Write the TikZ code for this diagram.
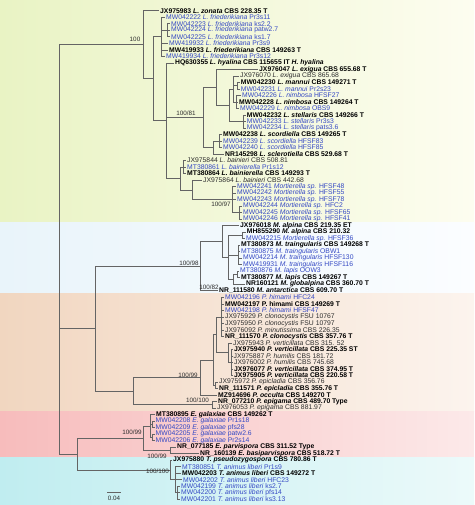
\documentclass[tikz,border=0pt]{standalone}
\usepackage{fontspec}
\setmainfont{Liberation Sans}
\definecolor{tblue}{RGB}{52,72,196}
\definecolor{tline}{RGB}{100,100,100}
\definecolor{tgray}{RGB}{45,45,45}
\definecolor{yL}{RGB}{233,243,196}
\definecolor{yR}{RGB}{253,253,240}
\definecolor{bL}{RGB}{233,244,250}
\definecolor{bR}{RGB}{251,253,255}
\definecolor{oL}{RGB}{241,214,192}
\definecolor{oR}{RGB}{252,244,238}
\definecolor{pL}{RGB}{247,188,188}
\definecolor{pR}{RGB}{252,233,233}
\definecolor{cL}{RGB}{192,237,240}
\definecolor{cR}{RGB}{236,250,250}
\newcommand\leaffont{\fontsize{6.8}{7}\selectfont}
\newcommand\suppfont{\fontsize{6.3}{7}\selectfont}
\tikzset{
  leaf/.style={anchor=west, inner sep=1pt, font=\leaffont, text=black},
  bl/.style={leaf, text=tblue},
  rg/.style={leaf, text=tgray},
  bd/.style={leaf, font=\leaffont\bfseries},
  edge/.style={draw=tline, line width=0.55pt},
  supp/.style={font=\suppfont, text=tgray, inner sep=0pt}
}
\begin{document}
\begin{tikzpicture}[x=1pt,y=-1pt]
\useasboundingbox (0,0) rectangle (474,505);
% background bands
\fill[left color=yL, right color=yR] (0,0) rectangle (474,222);
\fill[left color=bL, right color=bR] (0,222) rectangle (474,293.5);
\fill[left color=oL, right color=oR] (0,293.5) rectangle (474,411);
\fill[left color=pL, right color=pR] (0,411) rectangle (474,457);
\fill[left color=cL, right color=cR] (0,457) rectangle (474,505);

% internal nodes
\coordinate (root) at (59,249.4);
\coordinate (L) at (143,44.7);
\coordinate (L2) at (153,78.65);
\coordinate (F) at (161,36.7);
\coordinate (Fs) at (167.5,30.2);
\coordinate (L3) at (166.7,120.6);
\coordinate (N81) at (203,117.3);
\coordinate (E) at (216,87.2);
\coordinate (E2) at (229,105.1);
\coordinate (Mg) at (233,88.8);
\coordinate (Mm) at (237,85.55);
\coordinate (Mn) at (236,101.8);
\coordinate (Stel) at (243,121.4);
\coordinate (S) at (213,147.4);
\coordinate (Ss) at (219,140.9);
\coordinate (NB) at (180,178.4);
\coordinate (B1) at (183,167.0);
\coordinate (NB2) at (192.5,189.8);
\coordinate (MSP) at (232,199.55);
\coordinate (MSs) at (239.5,212.6);
\coordinate (MP) at (95,328.6);
\coordinate (M) at (200,266.1);
\coordinate (Mup) at (222,241.5);
\coordinate (Mup2) at (228,257.4);
\coordinate (Alp) at (242,235.35);
\coordinate (Tri) at (238,254.9);
\coordinate (LG) at (233,279.3);
\coordinate (Lp) at (237,274.45);
\coordinate (PP) at (133,391.1);
\coordinate (P) at (200,377.5);
\coordinate (P1) at (213,360);
\coordinate (Pa) at (216,334.7);
\coordinate (Ph) at (221,316.8);
\coordinate (Pv) at (228,352.6);
\coordinate (Pv2) at (231,362.4);
\coordinate (Ep2) at (215.5,385.15);
\coordinate (Epi) at (212,404.75);
\coordinate (ET) at (77,454);
\coordinate (Ent) at (143,438.1);
\coordinate (Eg) at (150.5,425.9);
\coordinate (Eg1) at (152.5,424.25);
\coordinate (Eg2) at (152.5,437.3);
\coordinate (Ep) at (170,450.35);
\coordinate (Tyr) at (170,469.9);
\coordinate (Ta) at (175,479.6);
\coordinate (Tb) at (177.5,492.7);

% leaves
\node[bd] (l1) at (159,10.7) {JX975983 \textit{L. zonata} CBS 228.35 T};
\node[bl] (l2) at (165,17.2) {MW042222 \textit{L. friederikiana} Pr3s11};
\node[bl] (l3) at (170,23.7) {MW042223 \textit{L. friederikiana} ks2.2};
\node[bl] (l4) at (170,30.2) {MW042224 \textit{L. friederikiana} patw2.7};
\node[bl] (l5) at (170,36.7) {MW042225 \textit{L. friederikiana} ks1.7};
\node[bl] (l6) at (168,43.3) {MW419932 \textit{L. friederikiana} Pr3s9};
\node[bd] (l7) at (168,49.8) {MW419933 \textit{L. friederikiana} CBS 149263 T};
\node[bl] (l8) at (165,56.3) {MW419934 \textit{L. friederikiana} Pr3s12};
\node[bd] (l9) at (174,62.8) {HQ630355 \textit{L. hyalina} CBS 115655 IT \textit{H. hyalina}};
\node[bd] (l10) at (258,69.3) {JX976047 \textit{L. exigua} CBS 655.68 T};
\node[rg] (l11) at (239,75.8) {JX976070 \textit{L. exigua} CBS 865.68};
\node[bd] (l12) at (239.7,82.3) {MW042230 \textit{L. mannui} CBS 149271 T};
\node[bl] (l13) at (239.7,88.8) {MW042231 \textit{L. mannui} Pr2s23};
\node[bl] (l14) at (241,95.3) {MW042226 \textit{L. nimbosa} HFSF27};
\node[bd] (l15) at (238,101.8) {MW042228 \textit{L. nimbosa} CBS 149264 T};
\node[bl] (l16) at (239,108.3) {MW042229 \textit{L. nimbosa} OBS9};
\node[bd] (l17) at (245.7,114.9) {MW042232 \textit{L. stellaris} CBS 149266 T};
\node[bl] (l18) at (245.7,121.4) {MW042233 \textit{L. stellaris} Pr3s3};
\node[bl] (l19) at (245.7,127.9) {MW042234 \textit{L. stellaris} pats3.6};
\node[bd] (l20) at (222,134.4) {MW042238 \textit{L. scordiella} CBS 149265 T};
\node[bl] (l21) at (222,140.9) {MW042239 \textit{L. scordiella} HFSF83};
\node[bl] (l22) at (222,147.4) {MW042240 \textit{L. scordiella} HFSF85};
\node[bd] (l23) at (224,153.9) {NR145298 \textit{L. sclerotiella} CBS 529.68 T};
\node[rg] (l24) at (186,160.5) {JX975844 \textit{L. bainieri} CBS 508.81};
\node[bl] (l25) at (186,167.0) {MT380861 \textit{L. bainierella} Pr1s12};
\node[bd] (l26) at (186,173.5) {MT380864 \textit{L. bainierella} CBS 149293 T};
\node[rg] (l27) at (202,180.0) {JX975864 \textit{L. bainieri} CBS 442.68};
\node[bl] (l28) at (236,186.5) {MW042241 \textit{Mortierella sp.} HFSF48};
\node[bl] (l29) at (236,193.0) {MW042242 \textit{Mortierella sp.} HFSF55};
\node[bl] (l30) at (236,199.5) {MW042243 \textit{Mortierella sp.} HFSF78};
\node[bl] (l31) at (242,206.1) {MW042244 \textit{Mortierella sp.} HFC2};
\node[bl] (l32) at (242,212.6) {MW042245 \textit{Mortierella sp.} HFSF65};
\node[bl] (l33) at (242,219.1) {MW042246 \textit{Mortierella sp.} HFSF41};
\node[bd] (l34) at (239,225.6) {JX976018 \textit{M. alpina} CBS 219.35 ET};
\node[bd] (l35) at (245.7,232.1) {MH855290 \textit{M. alpina} CBS 210.32};
\node[bl] (l36) at (245,238.6) {MW042215 \textit{Mortierella sp.} HFSF36};
\node[bd] (l37) at (240,245.1) {MT380873 \textit{M. traingularis} CBS 149268 T};
\node[bl] (l38) at (240,251.6) {MT380875 \textit{M. traingularis} OBW1};
\node[bl] (l39) at (242,258.2) {MW042214 \textit{M. traingularis} HFSF130};
\node[bl] (l40) at (242,264.7) {MW419931 \textit{M. traingularis} HFSF116};
\node[bl] (l41) at (239,271.2) {MT380876 \textit{M. lapis} OOW3};
\node[bd] (l42) at (240,277.7) {MT380877 \textit{M. lapis} CBS 149267 T};
\node[bd] (l43) at (245,284.2) {NR160121 \textit{M. globalpina} CBS 360.70 T};
\node[bd] (l44) at (218,290.7) {NR\_111580 \textit{M. antarctica} CBS 609.70 T};
\node[bl] (l45) at (224,297.2) {MW042196 \textit{P. himami} HFC24};
\node[bd] (l46) at (224,303.8) {MW042197 P. himami CBS 149269 T};
\node[bl] (l47) at (224,310.3) {MW042198 \textit{P. himami} HFSF47};
\node[rg] (l48) at (224,316.8) {JX975929 \textit{P. clonocystis} FSU 10767};
\node[rg] (l49) at (224,323.3) {JX975950 \textit{P. clonocystis} FSU 10797};
\node[rg] (l50) at (224,329.8) {JX976092 \textit{P. minutissima} CBS 226.35};
\node[bd] (l51) at (224,336.3) {NR\_111570 \textit{P. clonocystis} CBS 357.76 T};
\node[rg] (l52) at (232,342.8) {JX975943 \textit{P. verticillata} CBS 315. 52};
\node[bd] (l53) at (233,349.4) {JX975940 \textit{P. verticillata} CBS 225.35 ST};
\node[rg] (l54) at (232.5,355.9) {JX975887 \textit{P. humilis} CBS 181.72};
\node[rg] (l55) at (233,362.4) {JX976002 \textit{P. humilis} CBS 745.68};
\node[bd] (l56) at (233,368.9) {JX976077 \textit{P. verticillata} CBS 374.95 T};
\node[bd] (l57) at (233,375.4) {JX975905 \textit{P. verticillata} CBS 220.58 T};
\node[rg] (l58) at (218,381.9) {JX975972 \textit{P. epicladia} CBS 356.76};
\node[bd] (l59) at (218,388.4) {NR\_111571 \textit{P. epicladia} CBS 355.76 T};
\node[bd] (l60) at (217,395.0) {MZ914696 \textit{P. occulta} CBS 149270 T};
\node[bd] (l61) at (217,401.5) {NR\_077210 \textit{P. epigama} CBS 489.70 Type};
\node[rg] (l62) at (216,408.0) {JX976053 \textit{P. epigama} CBS 881.97};
\node[bd] (l63) at (155,414.5) {MT380895 \textit{E. galaxiae} CBS 149262 T};
\node[bl] (l64) at (154.5,421.0) {MW042208 \textit{E. galaxiae} Pr1s18};
\node[bl] (l65) at (154.5,427.5) {MW042209 \textit{E. galaxiae} pfs28};
\node[bl] (l66) at (154.5,434.0) {MW042205 \textit{E. galaxiae} patw2.6};
\node[bl] (l67) at (154.5,440.6) {MW042206 \textit{E. galaxiae} Pr2s14};
\node[bd] (l68) at (176,447.1) {NR\_077185 \textit{E. parvispora} CBS 311.52 Type};
\node[bd] (l69) at (199,453.6) {NR\_160139 \textit{E. basiparvispora} CBS 518.72 T};
\node[bd] (l70) at (172,460.1) {JX975880 \textit{T. pseudozygospora} CBS 780.86 T};
\node[bl] (l71) at (181,466.6) {MT380851 \textit{T. animus liberi} Pr1s9};
\node[bd] (l72) at (181,473.1) {MW042203 \textit{T. animus liberi} CBS 149272 T};
\node[bl] (l73) at (182,479.6) {MW042202 \textit{T. animus liberi} HFC23};
\node[bl] (l74) at (180,486.2) {MW042199 \textit{T. animus liberi} ks2.7};
\node[bl] (l75) at (180,492.7) {MW042200 \textit{T. animus liberi} pfs14};
\node[bl] (l76) at (180,499.2) {MW042201 \textit{T. animus liberi} ks3.13};

% tree edges
\begin{scope}[edge]
\draw (root) |- (L); \draw (root) |- (MP); \draw (root) |- (ET);
\draw (L) |- (l1.west); \draw (L) |- (L2);
\draw (L2) |- (F); \draw (L2) |- (L3);
\draw (F) |- (l2.west); \draw (F) |- (Fs); \draw (F) |- (l6.west); \draw (F) |- (l7.west); \draw (F) |- (l8.west);
\draw (Fs) |- (l3.west); \draw (Fs) |- (l4.west); \draw (Fs) |- (l5.west);
\draw (L3) |- (l9.west); \draw (L3) |- (N81); \draw (L3) |- (NB);
\draw (N81) |- (E); \draw (N81) |- (S);
\draw (E) |- (l10.west); \draw (E) |- (E2);
\draw (E2) |- (Mg); \draw (E2) |- (Stel);
\draw (Mg) |- (l11.west); \draw (Mg) |- (Mm); \draw (Mg) |- (Mn);
\draw (Mm) |- (l12.west); \draw (Mm) |- (l13.west);
\draw (Mn) |- (l14.west); \draw (Mn) |- (l15.west); \draw (Mn) |- (l16.west);
\draw (Stel) |- (l17.west); \draw (Stel) |- (l18.west); \draw (Stel) |- (l19.west);
\draw (S) |- (Ss); \draw (S) |- (l23.west);
\draw (Ss) |- (l20.west); \draw (Ss) |- (l21.west); \draw (Ss) |- (l22.west);
\draw (NB) |- (B1); \draw (NB) |- (NB2);
\draw (B1) |- (l24.west); \draw (B1) |- (l25.west); \draw (B1) |- (l26.west);
\draw (NB2) |- (l27.west); \draw (NB2) |- (MSP);
\draw (MSP) |- (l28.west); \draw (MSP) |- (l29.west); \draw (MSP) |- (l30.west); \draw (MSP) |- (MSs);
\draw (MSs) |- (l31.west); \draw (MSs) |- (l32.west); \draw (MSs) |- (l33.west);
\draw (MP) |- (M); \draw (MP) |- (PP);
\draw (M) |- (Mup); \draw (M) |- (l44.west);
\draw (Mup) |- (l34.west); \draw (Mup) |- (Mup2);
\draw (Mup2) |- (Alp); \draw (Mup2) |- (Tri); \draw (Mup2) |- (LG);
\draw (Alp) |- (l35.west); \draw (Alp) |- (l36.west);
\draw (Tri) |- (l37.west); \draw (Tri) |- (l38.west); \draw (Tri) |- (l39.west); \draw (Tri) |- (l40.west);
\draw (LG) |- (Lp); \draw (LG) |- (l43.west);
\draw (Lp) |- (l41.west); \draw (Lp) |- (l42.west);
\draw (PP) |- (P); \draw (PP) |- (Epi);
\draw (P) |- (P1); \draw (P) |- (l60.west);
\draw (P1) |- (Pa); \draw (P1) |- (Ep2);
\draw (Pa) |- (Ph); \draw (Pa) |- (Pv);
\foreach \i in {45,...,51} {\draw (Ph) |- (l\i.west);}
\draw (Pv) |- (l52.west); \draw (Pv) |- (Pv2);
\foreach \i in {53,...,57} {\draw (Pv2) |- (l\i.west);}
\draw (Ep2) |- (l58.west); \draw (Ep2) |- (l59.west);
\draw (Epi) |- (l61.west); \draw (Epi) |- (l62.west);
\draw (ET) |- (Ent); \draw (ET) |- (Tyr);
\draw (Ent) |- (Eg); \draw (Ent) |- (Ep);
\draw (Eg) |- (l63.west); \draw (Eg) |- (Eg1); \draw (Eg) |- (Eg2);
\draw (Eg1) |- (l64.west); \draw (Eg1) |- (l65.west);
\draw (Eg2) |- (l66.west); \draw (Eg2) |- (l67.west);
\draw (Ep) |- (l68.west); \draw (Ep) |- (l69.west);
\draw (Tyr) |- (l70.west); \draw (Tyr) |- (Ta);
\draw (Ta) |- (l71.west); \draw (Ta) |- (l72.west); \draw (Ta) |- (l73.west); \draw (Ta) |- (Tb);
\draw (Tb) |- (l74.west); \draw (Tb) |- (l75.west); \draw (Tb) |- (l76.west);
\end{scope}

% support values
\node[supp] (s1) at (135,39.5) {100};
\node[supp] (s2) at (186,113) {100/81};
\node[supp] (s3) at (221,204) {100/97};
\node[supp] (s4) at (189,263) {100/98};
\node[supp] (s5) at (209,287) {100/82};
\node[supp] (s6) at (188,375) {100/99};
\node[supp] (s7) at (197.5,400.5) {100/100};
\node[supp] (s8) at (132,432) {100/99};
\node[supp] (s9) at (157,456.5) {100/99};
\node[supp] (s10) at (157.5,471) {100/100};

% scale bar
\coordinate (sb1) at (107,492.5);
\coordinate (sb2) at (121,492.5);
\draw[edge] (sb1) -- (sb2);
\node[supp] (sbl) at (114,498.5) {0.04};
\end{tikzpicture}
\end{document}
